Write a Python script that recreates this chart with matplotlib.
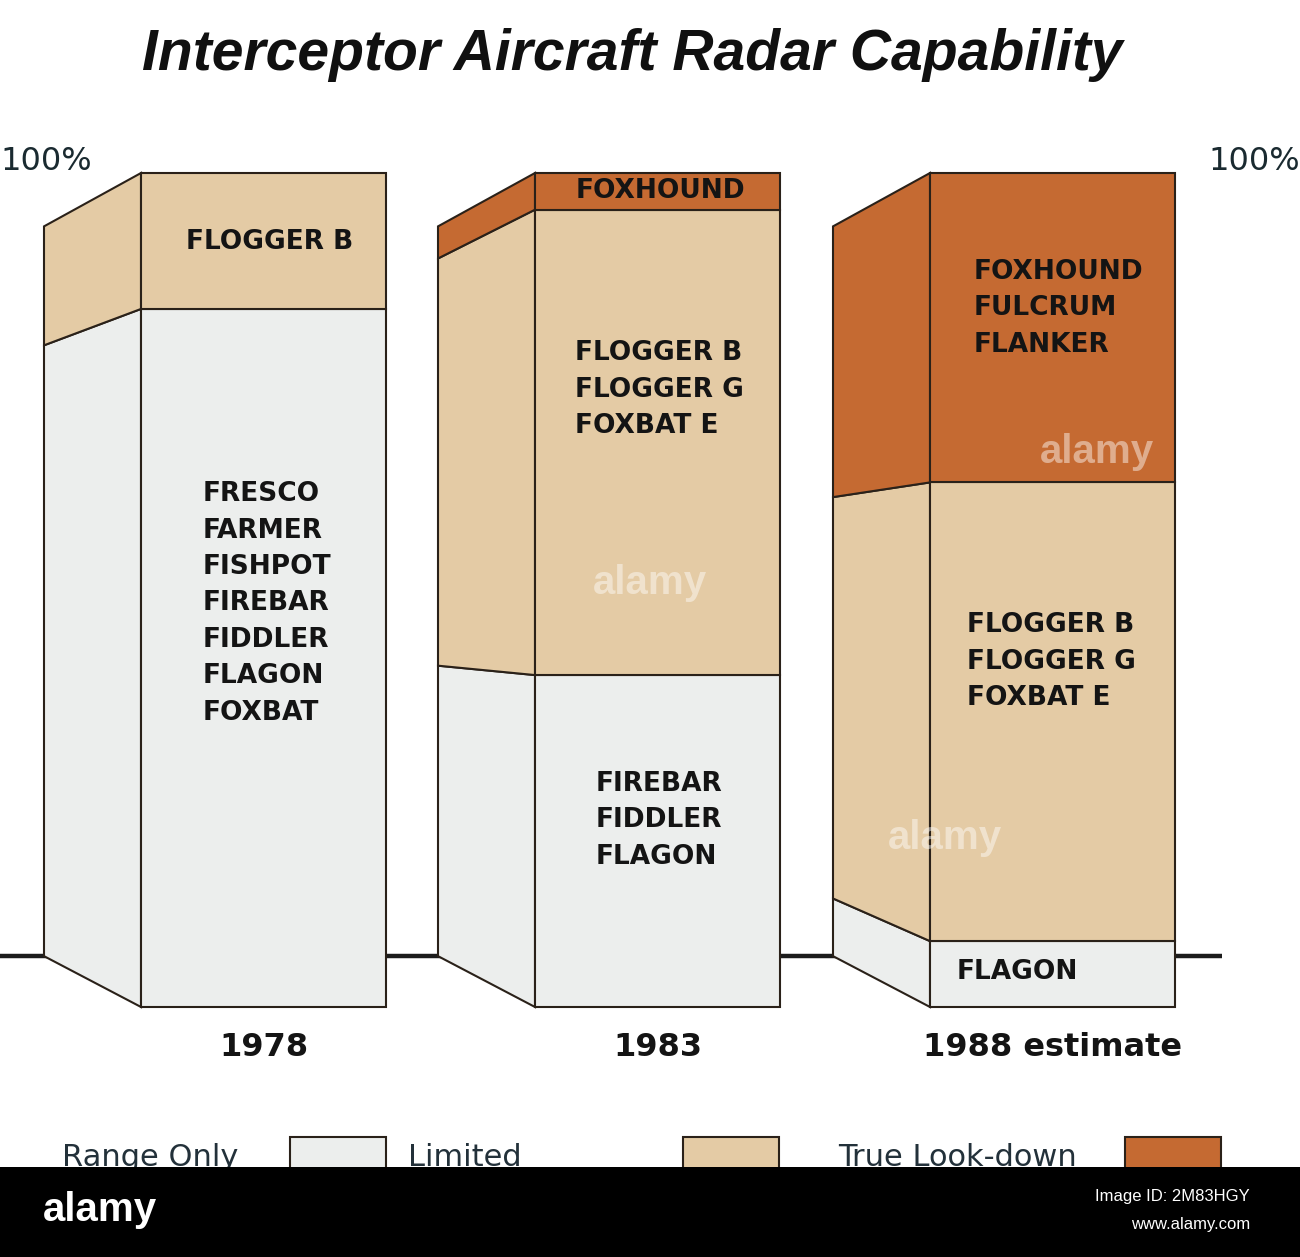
import matplotlib
matplotlib.use("Agg")
import matplotlib.pyplot as plt
from matplotlib.patches import Polygon, Rectangle

W, H = 1300, 1257

# ---- data (percent of interceptor force) ----
years = ["1978", "1983", "1988 estimate"]
categories = ["Range Only", "Limited", "True Look-down"]
range_only = [83.7, 39.8, 7.9]
limited = [16.3, 55.8, 55.0]
look_down = [0.0, 4.4, 37.1]
range_only_types = [["FRESCO", "FARMER", "FISHPOT", "FIREBAR", "FIDDLER", "FLAGON", "FOXBAT"],
                    ["FIREBAR", "FIDDLER", "FLAGON"],
                    ["FLAGON"]]
limited_types = [["FLOGGER B"], ["FLOGGER B", "FLOGGER G", "FOXBAT E"], ["FLOGGER B", "FLOGGER G", "FOXBAT E"]]
look_down_types = [[], ["FOXHOUND"], ["FOXHOUND", "FULCRUM", "FLANKER"]]

# ---- layout ----
colors = ["#eceeed", "#e4cba5", "#c56a32"]
edge = "#2a2119"
front_x0 = [141, 535, 930]          # left edge of the front face (px)
front_w = 245
depth = 97                          # side face width (px)
side_base, side_scale = 6.1, 0.875  # side face: y = base + scale * pct
# label block centres: (x px, y pct) for range / limited / look-down
label_pos = [[(267, 48.4), (270, 91.7), None],
             [(659, 22.4), (659, 74.0), (660, 97.8)],
             [(1017, 4.2), (1051, 41.4), (1058, 83.8)]]

def fx(x): return x / W
def fy(y): return 1 - y / H

fig = plt.figure(figsize=(W / 100, H / 100), dpi=100)
fig.patch.set_facecolor("white")
ax = fig.add_axes([0, fy(1007), 1, (1007 - 173) / H])
ax.set_xlim(0, W); ax.set_ylim(0, 100); ax.axis("off")

# ground line behind the bars
ax.plot([0, 1222], [side_base, side_base], color="#1c1c1c", lw=3.2, zorder=0, solid_capstyle="butt")

for i in range(len(years)):
    segs = [range_only[i], limited[i], look_down[i]]
    names = [range_only_types[i], limited_types[i], look_down_types[i]]
    x0 = front_x0[i]; xs = x0 - depth
    lo = 0.0
    for k, v in enumerate(segs):
        if v <= 0:
            continue
        hi = lo + v
        side = Polygon([(xs, side_base + side_scale * lo), (x0, lo), (x0, hi),
                        (xs, side_base + side_scale * hi)], closed=True,
                       facecolor=colors[k], edgecolor=edge, lw=1.5, zorder=2, clip_on=False)
        ax.add_patch(side)
        ax.add_patch(Rectangle((x0, lo), front_w, v, facecolor=colors[k], edgecolor=edge,
                               lw=1.5, zorder=3, clip_on=False))
        if names[k] and label_pos[i][k] is not None:
            lx, ly = label_pos[i][k]
            ax.text(lx, ly, "\n".join(names[k]), ha="center", va="center", multialignment="left",
                    fontsize=19, fontweight="bold", color="#141414", linespacing=1.52,
                    family="DejaVu Sans", zorder=5)
        lo = hi
    fig.text(fx(x0 + front_w / 2), fy(1047), years[i], ha="center", va="center",
             fontsize=23, fontweight="bold", color="#141414", family="DejaVu Sans")

# title and scale marks
fig.text(fx(632), fy(55), "Interceptor Aircraft Radar Capability", ha="center", va="center",
         fontsize=41, fontweight="bold", fontstyle="italic", family="Liberation Sans", color="#101010")
fig.text(fx(0), fy(161), "100%", ha="left", va="center", fontsize=23, family="DejaVu Sans", color="#1a2a30")
fig.text(fx(1300), fy(161), "100%", ha="right", va="center", fontsize=23, family="DejaVu Sans", color="#1a2a30")

# legend (cut off by the black band at the bottom)
leg_text_x = [62, 408, 838]
leg_box_x = [290, 683, 1125]
for k, cat in enumerate(categories):
    fig.text(fx(leg_text_x[k]), fy(1166), cat, ha="left", va="baseline", fontsize=22,
             family="DejaVu Sans", color="#23313a")
    fig.add_artist(Rectangle((fx(leg_box_x[k]), fy(1180)), 96 / W, 43 / H, transform=fig.transFigure,
                             facecolor=colors[k], edgecolor=edge, lw=1.5, zorder=3))

# faint stock-photo watermarks
for wx, wy in [(650, 583), (1097, 452), (945, 838)]:
    fig.text(fx(wx), fy(wy), "alamy", ha="center", va="center", fontsize=29, fontweight="bold",
             family="Liberation Sans", color="white", alpha=0.45, zorder=6)

# black credit band
fig.add_artist(Rectangle((0, 0), 1, (H - 1167) / H, transform=fig.transFigure,
                         facecolor="black", edgecolor="none", zorder=10))
fig.text(fx(100), fy(1210), "alamy", ha="center", va="center", fontsize=29, fontweight="bold",
         family="Liberation Sans", color="white", zorder=11)
fig.text(fx(1250), fy(1197), "Image ID: 2M83HGY", ha="right", va="center", fontsize=12,
         family="Liberation Sans", color="white", zorder=11)
fig.text(fx(1250), fy(1224), "www.alamy.com", ha="right", va="center", fontsize=12,
         family="Liberation Sans", color="white", zorder=11)

fig.savefig("out.png", dpi=100)
